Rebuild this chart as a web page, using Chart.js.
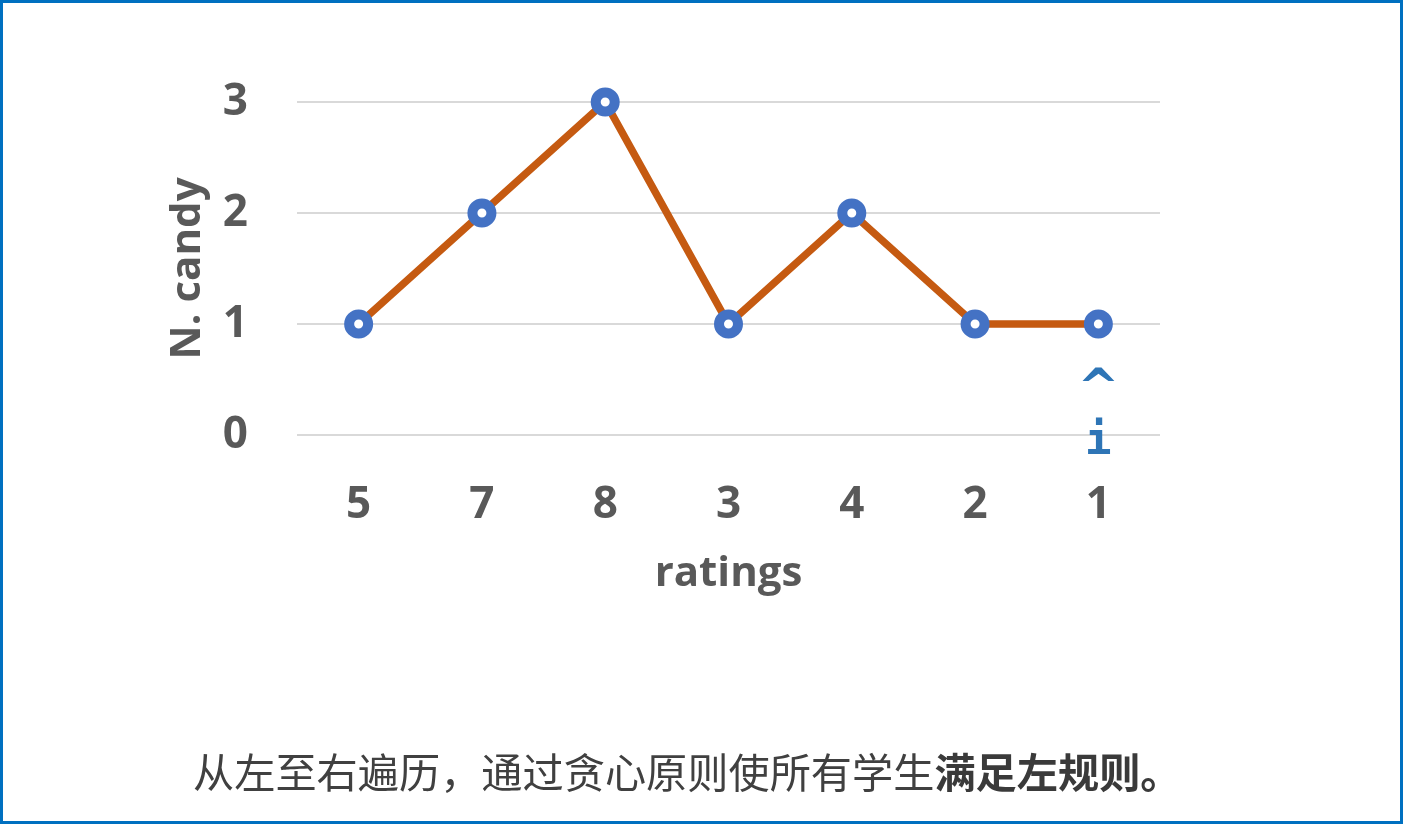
<!DOCTYPE html>
<html>
<head>
<meta charset="utf-8">
<script src="https://cdn.jsdelivr.net/npm/chart.js@4/dist/chart.umd.min.js"></script>
<style>
  html, body { margin: 0; padding: 0; background: #fff; }
  #wrap { position: relative; width: 1403px; height: 824px; overflow: hidden; }
  #frame { position: absolute; left: 0; top: 0; width: 1397px; height: 818px; border: 3px solid #0070C0; pointer-events: none; }
  #caption { position: absolute; left: 193px; top: 750px; font-family: "Noto Sans CJK SC", sans-serif; font-size: 41.2px; line-height: 1; color: #404040; white-space: nowrap; }
  #caption b { font-weight: 700; color: #3a3a3a; }
</style>
</head>
<body>
<div id="wrap">
  <canvas id="line-chart" width="1403" height="824"></canvas>
  <div id="caption">从左至右遍历，通过贪心原则使所有学生<b>满足左规则。</b></div>
  <div id="frame"></div>
</div>
<script>
const ratings = ['5', '7', '8', '3', '4', '2', '1'];
const candy = [1, 2, 3, 1, 2, 1, 1];
const yTicks = [0, 1, 2, 3];
// pointer marks under the current student
const markLabels = ['^', 'i'];
const markIndex = [6, 6];
const markValues = [0.4, -0.07];

const axisColor = '#595959';

const markPlugin = {
    id: 'marks',
    afterDatasetsDraw(chart) {
        const ctx = chart.ctx;
        const xs = chart.scales.x;
        const ys = chart.scales.y;
        ctx.save();
        ctx.fillStyle = '#2E75B6';
        ctx.textAlign = 'center';
        ctx.textBaseline = 'middle';
        for (let i = 0; i < markLabels.length; i++) {
            const x = xs.getPixelForValue(markIndex[i]);
            const y = ys.getPixelForValue(markValues[i]);
            ctx.font = i === 0 ? 'bold 50px "DejaVu Sans"' : 'bold 44px "DejaVu Sans Mono"';
            ctx.fillText(markLabels[i], x, y);
        }
        ctx.restore();
    }
};

const ctx = document.getElementById('line-chart').getContext('2d');
new Chart(ctx, {
    type: 'line',
    data: {
        labels: ratings,
        datasets: [{
            data: candy,
            borderColor: '#C55A11',
            borderWidth: 7.5,
            pointRadius: 9.5,
            pointBorderWidth: 10,
            pointBorderColor: '#4472C4',
            pointBackgroundColor: '#ffffff',
            tension: 0,
            clip: false
        }]
    },
    plugins: [markPlugin],
    options: {
        responsive: false,
        animation: false,
        layout: { padding: { top: 102, right: 243, bottom: 0, left: 0 } },
        plugins: {
            legend: { display: false },
            tooltip: { enabled: false }
        },
        scales: {
            x: {
                offset: true,
                grid: { display: false, drawTicks: false },
                border: { display: false },
                ticks: {
                    color: axisColor,
                    padding: 44,
                    font: { family: 'Open Sans', size: 44, weight: 'bold' }
                },
                title: {
                    display: true,
                    text: 'ratings',
                    color: axisColor,
                    padding: { top: 0, bottom: 225 },
                    font: { family: 'Open Sans', size: 42, weight: 'bold' }
                },
                afterFit(scale) { scale.height = 389; }
            },
            y: {
                min: 0,
                max: 3,
                afterBuildTicks(scale) { scale.ticks = yTicks.map(v => ({ value: v })); },
                grid: { color: '#D9D9D9', lineWidth: 2, drawTicks: false },
                border: { display: false },
                ticks: {
                    color: axisColor,
                    padding: 49,
                    font: { family: 'Open Sans', size: 44, weight: 'bold' }
                },
                title: {
                    display: true,
                    text: 'N. candy',
                    color: axisColor,
                    padding: { top: 163, bottom: 0 },
                    font: { family: 'Open Sans', size: 42, weight: 'bold' }
                },
                afterFit(scale) { scale.width = 297; }
            }
        }
    }
});
</script>
</body>
</html>
